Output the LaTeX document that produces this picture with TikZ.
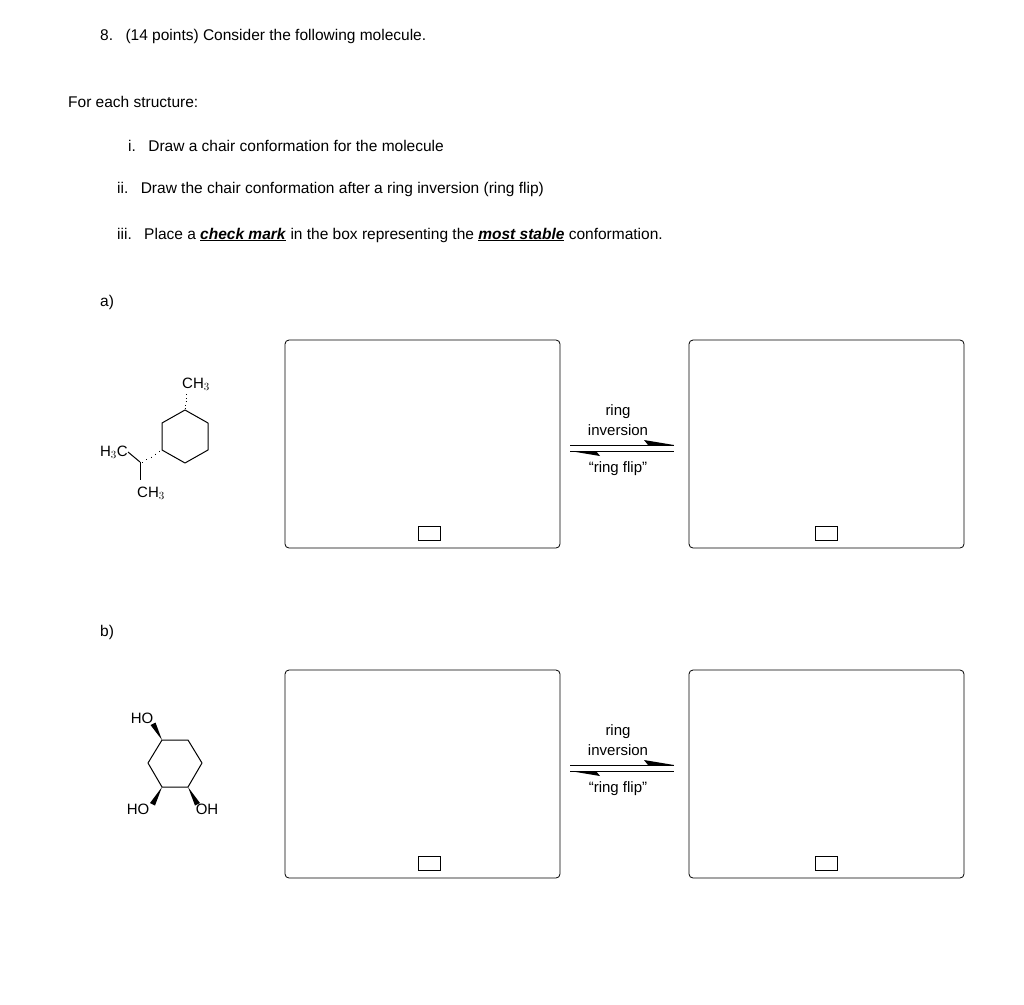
\documentclass[tikz,border=0pt]{standalone}
\usepackage{fontspec}
\setmainfont{Liberation Sans}
\usetikzlibrary{calc}
\begin{document}
\begin{tikzpicture}[x=1pt,y=-1pt,
  txt/.style={anchor=west,inner sep=0pt,font=\fontsize{15.5}{18}\selectfont},
  lbl/.style={inner sep=0pt,font=\fontsize{15}{18}\selectfont},
  panel/.style={draw,rounded corners=4pt,line width=0.8pt},
  chk/.style={draw,line width=0.8pt},
  bond/.style={line width=1pt},
  hl/.style={line width=0.9pt}]
\useasboundingbox (0,0) rectangle (1024,1004);
\node[txt] (t1) at (100,36) {8.\hspace{0.8em}(14 points) Consider the following molecule.};
\node[txt] (t2) at (68,102) {For each structure:};
\node[txt] (t3) at (128,146) {i.\hspace{0.8em}Draw a chair conformation for the molecule};
\node[txt] (t4) at (117,189) {ii.\hspace{0.8em}Draw the chair conformation after a ring inversion (ring flip)};
\node[txt] (t5) at (117,235) {iii.\hspace{0.8em}Place a \underline{\textbf{\textit{check mark}}} in the box representing the \underline{\textbf{\textit{most stable}}} conformation.};
\node[txt] (ta) at (100,302) {a)};
\node[txt] (tb) at (100,632) {b)};
% boxes
\foreach \r/\dy in {a/0,b/330}{
  \node[panel,minimum width=275pt,minimum height=208pt] (L\r) at (422.5,444+\dy) {};
  \node[panel,minimum width=275pt,minimum height=208pt] (R\r) at (826.5,444+\dy) {};
  \node[chk,minimum width=22pt,minimum height=14pt,inner sep=0pt] (cl\r) at (429.5,533+\dy) {};
  \node[chk,minimum width=22pt,minimum height=14pt,inner sep=0pt] (cr\r) at (826.5,533+\dy) {};
}
\foreach \r/\dy in {a/0,b/320}{
  \node[lbl] (ring\r) at (618,412+\dy) {ring};
  \node[lbl] (inv\r) at (618,430+\dy) {inversion};
  \node[lbl] (flip\r) at (618,469+\dy) {“ring flip”};
  \coordinate (p1\r) at (570,445+\dy); \coordinate (p2\r) at (674,445+\dy);
  \coordinate (q1\r) at (570,451+\dy); \coordinate (q2\r) at (674,451+\dy);
  \draw[line width=1pt] (p1\r) -- (p2\r);
  \fill (p2\r) -- ++(-30,-5) -- ++(4,5) -- cycle;
  \draw[line width=1pt] (q1\r) -- (q2\r);
  \fill (q1\r) -- ++(30,5) -- ++(-4,-5) -- cycle;
}
% molecule a
\coordinate (a1) at (185,410); \coordinate (a2) at (208,423); \coordinate (a3) at (208,450);
\coordinate (a4) at (185,463); \coordinate (a5) at (162,450); \coordinate (a6) at (162,423);
\coordinate (mt) at (185,393);
\draw[bond,line join=round] (a1)--(a2)--(a3)--(a4)--(a5)--(a6)--cycle;
\node[lbl] (me1) at (196,384) {CH$_3$};
\foreach \t in {0.1,0.3,0.5,0.7,0.9}{
  \draw[line width=0.8pt] ($(a1)!\t!(mt)+(-{0.5+2*\t},0)$) -- ($(a1)!\t!(mt)+({0.5+2*\t},0)$);}
\coordinate (ic) at (140,462);
\foreach \t in {0.1,0.3,0.5,0.7,0.9}{
  \draw[line width=0.8pt] ($(a5)!\t!(ic)+(0,-{0.5+2*\t})$) -- ($(a5)!\t!(ic)+(0,{0.5+2*\t})$);}
\node[lbl,anchor=east] (me2) at (128,452) {H$_3$C};
\draw[bond] (ic) -- (me2.east);
\node[lbl] (me3) at (151,493) {CH$_3$};
\coordinate (ib) at (140,480);
\draw[bond] (ic) -- (ib);
% molecule b
\coordinate (b1) at (162,740); \coordinate (b2) at (188,740); \coordinate (b3) at (202,763);
\coordinate (b4) at (188,787); \coordinate (b5) at (162,787); \coordinate (b6) at (148,763);
\draw[bond,line join=round] (b1)--(b2)--(b3)--(b4)--(b5)--(b6)--cycle;
\node[lbl] (oh1) at (142,718) {HO};
\node[lbl] (oh2) at (138,809) {HO};
\node[lbl] (oh3) at (207,809) {OH};
\fill (b1) -- (150.5,725) -- (155.5,722.5) -- cycle;
\fill (b5) -- (150,803) -- (155,805.5) -- cycle;
\fill (b4) -- (195,805.5) -- (200,803) -- cycle;
\end{tikzpicture}
\end{document}
